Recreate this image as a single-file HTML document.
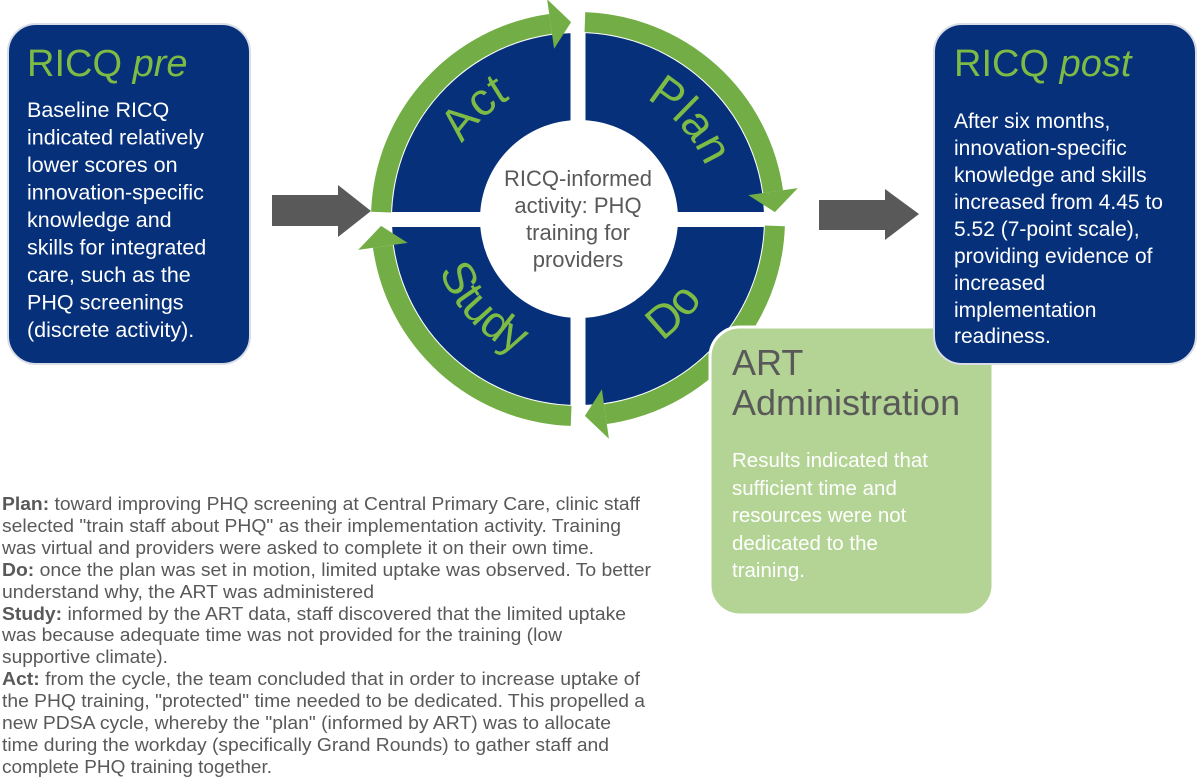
<!DOCTYPE html>
<html><head><meta charset="utf-8"><style>
html,body{margin:0;padding:0;background:#fff;}
svg{display:block;font-family:"Liberation Sans",Arial,sans-serif;}
</style></head><body>
<svg width="1200" height="782" viewBox="0 0 1200 782" xmlns="http://www.w3.org/2000/svg">
<!-- left box -->
<rect x="8" y="24" width="242" height="340" rx="28" fill="#06307a" stroke="#d9dde6" stroke-width="2"/>
<text x="27" y="76" font-size="38" fill="#7dbb45">RICQ <tspan font-style="italic">pre</tspan></text>
<g font-size="21.5" fill="#fff">
<text x="27" y="117">Baseline RICQ</text>
<text x="27" y="144.5">indicated relatively</text>
<text x="27" y="172">lower scores on</text>
<text x="27" y="199.5">innovation-specific</text>
<text x="27" y="227">knowledge and</text>
<text x="27" y="254.5">skills for integrated</text>
<text x="27" y="282">care, such as the</text>
<text x="27" y="309.5">PHQ screenings</text>
<text x="27" y="337">(discrete activity).</text>
</g>
<!-- arrows -->
<polygon points="272,195 338,195 338,185 371,211 338,237 338,226 272,226" fill="#595959"/>
<polygon points="819,200 885,200 885,189 919,214 885,240 885,230 819,230" fill="#595959"/>
<!-- cycle -->
<circle cx="578" cy="219" r="186" fill="#06307a"/>
<line x1="578" y1="20" x2="578" y2="420" stroke="#fff" stroke-width="15"/>
<line x1="380" y1="219.5" x2="776" y2="219.5" stroke="#fff" stroke-width="15"/>
<circle cx="579" cy="219" r="99" fill="#fff"/>
<g fill="none" stroke="#72ae45" stroke-width="20">
<path d="M381.1,212.1 A197,197 0 0 1 550.6,23.9"/>
<path d="M584.9,22.1 A197,197 0 0 1 773.1,191.6"/>
<path d="M774.9,225.9 A197,197 0 0 1 605.4,414.1"/>
<path d="M571.1,415.9 A197,197 0 0 1 382.9,246.4"/>
</g>
<g fill="#72ae45">
<polygon points="547.1,-0.8 554.1,48.7 571.1,22.1"/>
<polygon points="797.8,188.1 748.3,195.1 774.9,212.1"/>
<polygon points="608.9,438.8 601.9,389.3 584.9,415.9"/>
<polygon points="358.2,249.9 407.7,242.9 381.1,225.9"/>
</g>
<defs>
<path id="top" d="M440,219 A138,138 0 0 1 716,219"/>
<path id="bot" d="M430,219 A148,148 0 0 0 726,219"/>
</defs>
<g font-size="46" fill="#7dbb45" text-anchor="middle">
<text><textPath href="#top" startOffset="26%">Act</textPath></text>
<text><textPath href="#top" startOffset="77%">Plan</textPath></text>
<text><textPath href="#bot" startOffset="24%">Study</textPath></text>
<text><textPath href="#bot" startOffset="75.5%">Do</textPath></text>
</g>
<g font-size="22" fill="#595959" text-anchor="middle">
<text x="578" y="186">RICQ-informed</text>
<text x="578" y="213">activity: PHQ</text>
<text x="578" y="240">training for</text>
<text x="578" y="267">providers</text>
</g>
<!-- ART box -->
<rect x="710" y="327" width="283" height="288" rx="30" fill="#b3d494" stroke="#fff" stroke-width="3"/>
<text x="732" y="375" font-size="36" fill="#595959">ART</text>
<text x="732" y="415" font-size="36" fill="#595959">Administration</text>
<g font-size="20.5" fill="#fff">
<text x="732" y="467">Results indicated that</text>
<text x="732" y="495">sufficient time and</text>
<text x="732" y="522">resources were not</text>
<text x="732" y="550">dedicated to the</text>
<text x="732" y="577">training.</text>
</g>
<!-- right box -->
<rect x="934" y="24" width="262" height="340" rx="28" fill="#06307a" stroke="#d9dde6" stroke-width="2"/>
<text x="954" y="76" font-size="38" fill="#7dbb45">RICQ <tspan font-style="italic">post</tspan></text>
<g font-size="21" fill="#fff">
<text x="954" y="128">After six months,</text>
<text x="954" y="155">innovation-specific</text>
<text x="954" y="182">knowledge and skills</text>
<text x="954" y="209">increased from 4.45 to</text>
<text x="954" y="236">5.52 (7-point scale),</text>
<text x="954" y="263">providing evidence of</text>
<text x="954" y="290">increased</text>
<text x="954" y="317">implementation</text>
<text x="954" y="343">readiness.</text>
</g>
<!-- bottom text -->
<g font-size="18" fill="#595959">
<text x="2" y="510" textLength="638" lengthAdjust="spacingAndGlyphs"><tspan font-weight="bold">Plan:</tspan> toward improving PHQ screening at Central Primary Care, clinic staff</text>
<text x="2" y="532" textLength="619" lengthAdjust="spacingAndGlyphs">selected "train staff about PHQ" as their implementation activity. Training</text>
<text x="2" y="554" textLength="592" lengthAdjust="spacingAndGlyphs">was virtual and providers were asked to complete it on their own time.</text>
<text x="2" y="576" textLength="649" lengthAdjust="spacingAndGlyphs"><tspan font-weight="bold">Do:</tspan> once the plan was set in motion, limited uptake was observed. To better</text>
<text x="2" y="598" textLength="372" lengthAdjust="spacingAndGlyphs">understand why, the ART was administered</text>
<text x="2" y="620" textLength="624" lengthAdjust="spacingAndGlyphs"><tspan font-weight="bold">Study:</tspan> informed by the ART data, staff discovered that the limited uptake</text>
<text x="2" y="641" textLength="560" lengthAdjust="spacingAndGlyphs">was because adequate time was not provided for the training (low</text>
<text x="2" y="663" textLength="166" lengthAdjust="spacingAndGlyphs">supportive climate).</text>
<text x="2" y="685" textLength="638" lengthAdjust="spacingAndGlyphs"><tspan font-weight="bold">Act:</tspan>  from the cycle, the team concluded that in order to increase uptake of</text>
<text x="2" y="707" textLength="643" lengthAdjust="spacingAndGlyphs">the PHQ training, "protected" time needed to be dedicated. This propelled a</text>
<text x="2" y="729" textLength="609" lengthAdjust="spacingAndGlyphs">new PDSA cycle, whereby the "plan" (informed by ART) was to allocate</text>
<text x="2" y="751" textLength="607" lengthAdjust="spacingAndGlyphs">time during the workday (specifically Grand Rounds) to gather staff and</text>
<text x="2" y="773" textLength="270" lengthAdjust="spacingAndGlyphs">complete PHQ training together.</text>
</g>
</svg>
</body></html>
